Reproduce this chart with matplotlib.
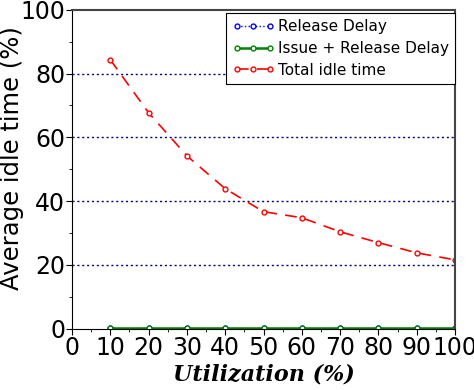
import matplotlib
matplotlib.use("Agg")
import matplotlib.pyplot as plt

# Values
utilization = [10, 20, 30, 40, 50, 60, 70, 80, 90, 100]
release_delay = [0.1, 0.1, 0.1, 0.1, 0.1, 0.1, 0.1, 0.1, 0.1, 0.1]
issue_release_delay = [0.2, 0.2, 0.2, 0.2, 0.2, 0.2, 0.2, 0.2, 0.2, 0.2]
total_idle = [84.3, 67.7, 54.2, 43.9, 36.7, 34.8, 30.4, 27.0, 23.8, 21.6]

fig = plt.figure(figsize=(4.74, 3.9), dpi=100)
ax = fig.add_axes([0.152, 0.157, 0.808, 0.818])

ax.plot(utilization, release_delay, color="blue", linestyle=":", linewidth=1,
        marker="o", markersize=3.5, markerfacecolor="white", label="Release Delay")
ax.plot(utilization, issue_release_delay, color="green", linestyle="-", linewidth=1.8,
        marker="o", markersize=3.5, markeredgewidth=1, markerfacecolor="white",
        label="Issue + Release Delay")
ax.plot(utilization, total_idle, color="red", linestyle=(0, (7, 5)), linewidth=1.2,
        marker="o", markersize=3.5, markerfacecolor="white", label="Total idle time")

ax.set_xlim(0, 100)
ax.set_ylim(0, 100)
ax.set_xticks(range(0, 101, 10))
ax.set_yticks(range(0, 101, 20))
ax.set_xticks(range(5, 100, 10), minor=True)
ax.set_yticks(range(10, 100, 20), minor=True)
ax.tick_params(axis="both", which="major", labelsize=17, length=4, pad=1)
ax.tick_params(axis="both", which="minor", length=2)

for y in [20, 40, 60, 80]:
    ax.axhline(y, color="navy", linestyle=(0, (1.5, 2)), linewidth=1, zorder=0)

for side in ["right", "top"]:
    ax.spines[side].set_color("#444444")
    ax.spines[side].set_linewidth(1.5)

ax.set_xlabel("Utilization (%)", fontsize=16, fontweight="bold", fontstyle="italic",
              family="DejaVu Serif", labelpad=3)
ax.set_ylabel("Average idle time (%)", fontsize=17.5, labelpad=0)
ax.yaxis.set_label_coords(-0.125, 0.535)

leg = ax.legend(loc="upper right", fontsize=11, numpoints=3, handlelength=2.8,
                handletextpad=0.2, borderpad=0.4, labelspacing=0.45,
                borderaxespad=0, fancybox=False, framealpha=1, edgecolor="black",
                bbox_to_anchor=(1.0, 0.99))
leg.get_frame().set_linewidth(0.8)

fig.savefig("out.png", dpi=100)
